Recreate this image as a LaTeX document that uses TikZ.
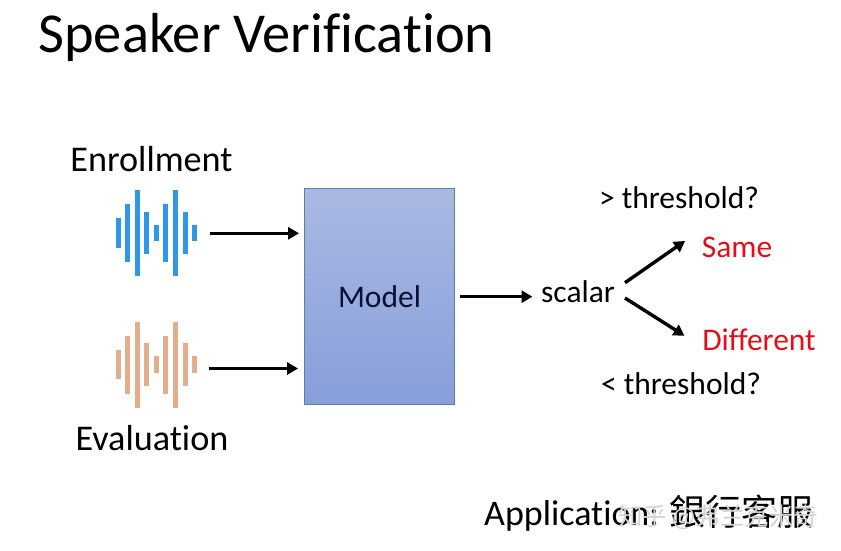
\documentclass[tikz,border=0pt]{standalone}
\usepackage{fontspec}
\setmainfont[Ligatures=NoCommon]{Carlito}
\newfontfamily\cjk{Noto Sans CJK TC}
\usetikzlibrary{arrows.meta,calc}
\definecolor{wblue}{HTML}{2E97EA}
\definecolor{worange}{HTML}{E2AE8C}
\definecolor{redtxt}{HTML}{E0101A}
\definecolor{boxtop}{HTML}{A9B9E2}
\definecolor{boxbot}{HTML}{889EDA}
\definecolor{boxedge}{HTML}{5A7FA6}
\definecolor{wmark}{HTML}{D4D4D4}
\definecolor{modeltxt}{HTML}{0A1030}
\tikzset{
  x=1pt,y=-1pt,
  lbl/.style={inner sep=0pt,anchor=base,font=\fontsize{31.5}{36}\selectfont,text=black},
  redlbl/.style={lbl,text=redtxt},
  conn/.style={line width=3.4pt,-{Triangle[length=11pt,width=12pt]},black},
  wavebox/.style={inner sep=0pt,minimum width=84pt,minimum height=88pt},
  modelbox/.style={draw=boxedge,line width=0.8pt,top color=boxtop,bottom color=boxbot,minimum width=150pt,minimum height=216pt,inner sep=0pt},
}
\newcommand{\wavebars}[3]{%
  \foreach \dx/\h in {-38.5/14.7,-29.2/29,-19.5/43,-9.8/21.3,-0.5/8.3,9.2/29,18.8/43,28.5/21.3,38.2/8.3}
    \fill[#3] (#1+\dx-2.5,#2-\h) rectangle (#1+\dx+2.5,#2+\h);}
\begin{document}
\begin{tikzpicture}
\useasboundingbox (0,0) rectangle (841,550);
\node[lbl,font=\fontsize{56.4}{64}\selectfont] (title) at (266.5,52) {Speaker Verification};
\node[lbl,font=\fontsize{36.2}{40}\selectfont] (enroll) at (151.5,171) {Enrollment};
\node[lbl,font=\fontsize{36.2}{40}\selectfont] (eval) at (152,450) {Evaluation};
\wavebars{156.5}{233}{wblue}
\wavebars{156.5}{364.5}{worange}
\node[wavebox] (wa) at (156.5,233) {};
\node[wavebox] (wb) at (156.5,368.5) {};
\node[modelbox] (model) at (379.5,296.5) {};
\node[lbl,text=modeltxt] (mtext) at (379.5,307) {Model};
\node[lbl] (scalar) at (578,302.5) {scalar};
\node[lbl] (gt) at (679,208.5) {> threshold?};
\node[lbl] (lt) at (681,394.5) {< threshold?};
\node[redlbl] (same) at (737,257) {Same};
\node[redlbl] (diff) at (759,350.5) {Different};
\node[lbl,font=\fontsize{36}{40}\selectfont,anchor=base west] (app) at (484,525) {Application: {\cjk 銀行客服}};
\node[inner sep=0pt,anchor=base west,font=\fontsize{24.5}{28}\selectfont\cjk,text=wmark] (wm) at (618,525) {知乎 @弗兰克米奇};
\draw[conn] ($(wa.center)+(53,0.3)$) -- ($(wa.center -| model.west)+(-5,0.3)$);
\draw[conn] ($(wb.center)+(52,0)$) -- ($(wb.center -| model.west)+(-6,0)$);
\draw[conn] ($(model.center)+(80.5,0.2)$) -- ($(model.center)+(153,0.2)$);
\coordinate (fork1) at (625,282.7);
\coordinate (fork2) at (625,298);
\draw[conn] (fork1) -- ($(same.west)+(-16.5,-6)$);
\draw[conn] (fork2) -- ($(diff.west)+(-17.5,-4)$);
\end{tikzpicture}
\end{document}
